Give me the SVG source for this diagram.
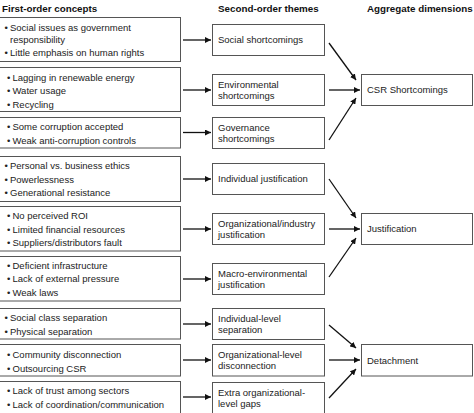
<svg xmlns="http://www.w3.org/2000/svg" width="474" height="413" viewBox="0 0 474 413">
<defs>
<marker id="ah" markerUnits="userSpaceOnUse" markerWidth="7" markerHeight="6" refX="6" refY="3" orient="auto">
<path d="M0,0 L6,3 L0,6 Z" fill="#111"/>
</marker>
<style>
.b{fill:#fff;stroke:#555;stroke-width:1}
.t{font-family:"Liberation Sans",Arial,sans-serif;font-size:9.5px;fill:#222}
.h{font-family:"Liberation Sans",Arial,sans-serif;font-size:9.8px;font-weight:bold;fill:#111}
.c{stroke:#111;stroke-width:1.3;fill:none;marker-end:url(#ah)}
</style>
</defs>
<rect width="474" height="413" fill="#fff"/>
<g id="headers">
<text class="h" x="2" y="12">First-order concepts</text>
<text class="h" x="218" y="12">Second-order themes</text>
<text class="h" x="367" y="12">Aggregate dimensions</text>
</g>
<g id="first-order">
<g id="f1"><rect class="b" x="-1" y="17.5" width="181.5" height="44"/>
<text class="t"><tspan x="4.5" y="31">•</tspan><tspan x="10" y="31">Social issues as government</tspan><tspan x="10" y="42.5">responsibility</tspan><tspan x="4.5" y="56">•</tspan><tspan x="10" y="56">Little emphasis on human rights</tspan></text></g>
<g id="f2"><rect class="b" x="-1" y="67.5" width="181.5" height="44"/>
<text class="t"><tspan x="7" y="80.5">•</tspan><tspan x="12.5" y="80.5">Lagging in renewable energy</tspan><tspan x="7" y="94">•</tspan><tspan x="12.5" y="94">Water usage</tspan><tspan x="7" y="107.5">•</tspan><tspan x="12.5" y="107.5">Recycling</tspan></text></g>
<g id="f3"><rect class="b" x="-1" y="117.5" width="181.5" height="30.5"/>
<text class="t"><tspan x="7" y="130">•</tspan><tspan x="12.5" y="130">Some corruption accepted</tspan><tspan x="7" y="143.5">•</tspan><tspan x="12.5" y="143.5">Weak anti-corruption controls</tspan></text></g>
<g id="f4"><rect class="b" x="-1" y="156.5" width="181.5" height="45"/>
<text class="t"><tspan x="4.5" y="168.5">•</tspan><tspan x="10" y="168.5">Personal vs. business ethics</tspan><tspan x="4.5" y="182.5">•</tspan><tspan x="10" y="182.5">Powerlessness</tspan><tspan x="4.5" y="196">•</tspan><tspan x="10" y="196">Generational resistance</tspan></text></g>
<g id="f5"><rect class="b" x="-1" y="206.5" width="181.5" height="44.5"/>
<text class="t"><tspan x="7" y="218.5">•</tspan><tspan x="12.5" y="218.5">No perceived ROI</tspan><tspan x="7" y="232.5">•</tspan><tspan x="12.5" y="232.5">Limited financial resources</tspan><tspan x="7" y="245.5">•</tspan><tspan x="12.5" y="245.5">Suppliers/distributors fault</tspan></text></g>
<g id="f6"><rect class="b" x="-1" y="256.5" width="181.5" height="44.5"/>
<text class="t"><tspan x="7" y="268.5">•</tspan><tspan x="12.5" y="268.5">Deficient infrastructure</tspan><tspan x="7" y="282">•</tspan><tspan x="12.5" y="282">Lack of external pressure</tspan><tspan x="7" y="296">•</tspan><tspan x="12.5" y="296">Weak laws</tspan></text></g>
<g id="f7"><rect class="b" x="-1" y="308.5" width="181.5" height="30.5"/>
<text class="t"><tspan x="4.5" y="321">•</tspan><tspan x="10" y="321">Social class separation</tspan><tspan x="4.5" y="335">•</tspan><tspan x="10" y="335">Physical separation</tspan></text></g>
<g id="f8"><rect class="b" x="-1" y="344.5" width="181.5" height="31.5"/>
<text class="t"><tspan x="7" y="357.5">•</tspan><tspan x="12.5" y="357.5">Community disconnection</tspan><tspan x="7" y="371.5">•</tspan><tspan x="12.5" y="371.5">Outsourcing CSR</tspan></text></g>
<g id="f9"><rect class="b" x="-1" y="381.5" width="181.5" height="34"/>
<text class="t"><tspan x="7" y="393.5">•</tspan><tspan x="12.5" y="393.5">Lack of trust among sectors</tspan><tspan x="7" y="408">•</tspan><tspan x="12.5" y="408">Lack of coordination/communication</tspan></text></g>
</g>
<g id="second-order">
<g id="s1"><rect class="b" x="212.5" y="24.5" width="112" height="31"/><text class="t" x="218" y="43">Social shortcomings</text></g>
<g id="s2"><rect class="b" x="212.5" y="74.5" width="112" height="31"/><text class="t"><tspan x="218" y="87.5">Environmental</tspan><tspan x="218" y="99">shortcomings</tspan></text></g>
<g id="s3"><rect class="b" x="212.5" y="117.5" width="112" height="31"/><text class="t"><tspan x="218" y="130.5">Governance</tspan><tspan x="218" y="142">shortcomings</tspan></text></g>
<g id="s4"><rect class="b" x="212.5" y="163.5" width="112" height="31"/><text class="t" x="218" y="182">Individual justification</text></g>
<g id="s5"><rect class="b" x="212.5" y="213.5" width="112" height="31"/><text class="t"><tspan x="218" y="226.5">Organizational/industry</tspan><tspan x="218" y="238">justification</tspan></text></g>
<g id="s6"><rect class="b" x="212.5" y="263.5" width="112" height="31"/><text class="t"><tspan x="218" y="276.5">Macro-environmental</tspan><tspan x="218" y="288">justification</tspan></text></g>
<g id="s7"><rect class="b" x="212.5" y="308.5" width="112" height="31"/><text class="t"><tspan x="218" y="321.5">Individual-level</tspan><tspan x="218" y="333">separation</tspan></text></g>
<g id="s8"><rect class="b" x="212.5" y="344.5" width="112" height="31.5"/><text class="t"><tspan x="218" y="357.5">Organizational-level</tspan><tspan x="218" y="369">disconnection</tspan></text></g>
<g id="s9"><rect class="b" x="212.5" y="382.5" width="112" height="33"/><text class="t"><tspan x="218" y="395.5">Extra organizational-</tspan><tspan x="218" y="407">level gaps</tspan></text></g>
</g>
<g id="aggregate">
<g id="a1"><rect class="b" x="361.5" y="74.5" width="111" height="31"/><text class="t" x="367" y="93">CSR Shortcomings</text></g>
<g id="a2"><rect class="b" x="361.5" y="213.5" width="111" height="31"/><text class="t" x="367" y="232">Justification</text></g>
<g id="a3"><rect class="b" x="361.5" y="344.5" width="111" height="31.5"/><text class="t" x="367" y="363.5">Detachment</text></g>
</g>
<g id="connectors">
<line class="c" x1="183" y1="40" x2="211" y2="40"/>
<line class="c" x1="183" y1="90" x2="211" y2="90"/>
<line class="c" x1="183" y1="132.5" x2="211" y2="132.5"/>
<line class="c" x1="183" y1="179" x2="211" y2="179"/>
<line class="c" x1="183" y1="229" x2="211" y2="229"/>
<line class="c" x1="183" y1="279" x2="211" y2="279"/>
<line class="c" x1="183" y1="324" x2="211" y2="324"/>
<line class="c" x1="183" y1="360" x2="211" y2="360"/>
<line class="c" x1="183" y1="397" x2="211" y2="397"/>
<line class="c" x1="329" y1="43" x2="356" y2="80"/>
<line class="c" x1="329" y1="90" x2="360" y2="90"/>
<line class="c" x1="329" y1="140" x2="356" y2="98"/>
<line class="c" x1="329" y1="179" x2="356" y2="218"/>
<line class="c" x1="329" y1="229" x2="360" y2="229"/>
<line class="c" x1="329" y1="277" x2="356" y2="238"/>
<line class="c" x1="329" y1="325" x2="356" y2="348"/>
<line class="c" x1="329" y1="360" x2="360" y2="360"/>
<line class="c" x1="329" y1="398" x2="356" y2="369"/>
</g>
</svg>
